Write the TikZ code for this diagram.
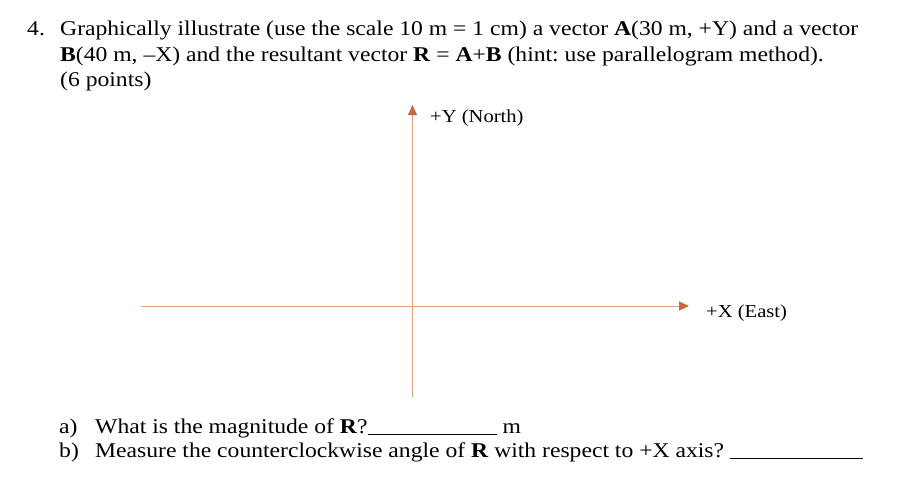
\documentclass[tikz,border=0pt]{standalone}
\usepackage{fontspec}
\setmainfont{Liberation Serif}[FakeStretch=1.125]
\usetikzlibrary{arrows.meta,positioning}
\definecolor{axisline}{RGB}{226,160,125}
\definecolor{axistip}{RGB}{196,106,62}
\frenchspacing

\begin{document}
\begin{tikzpicture}[x=1pt, y=-1pt,
    question/.style={anchor=base west, inner sep=0pt, font=\fontsize{21}{25}\selectfont},
    label/.style={anchor=base west, inner sep=0pt, font=\fontsize{18.3}{22}\selectfont},
    axis/.style={draw=axisline, line width=1pt, -{Triangle[length=10pt, width=9pt, color=axistip]}}
]
\useasboundingbox (0,0) rectangle (918,488);

% Question text
\node[question] at (27,35) (num) {4.};
\node[question] at (60,35) (line1) {Graphically illustrate (use the scale 10 m = 1 cm) a vector \textbf{A}(30 m, +Y) and a vector};
\node[question] at (60,61) (line2) {\textbf{B}(40 m, --X) and the resultant vector \textbf{R} = \textbf{A}+\textbf{B} (hint: use parallelogram method).};
\node[question] at (60,86) (line3) {(6 points)};

% Axes
\coordinate (xleft) at (141,306);
\coordinate (xright) at (689,306);
\coordinate (ybottom) at (412.5,397);
\coordinate (ytop) at (412.5,105);
\draw[axis] (xleft) -- (xright);
\draw[axis] (ybottom) -- (ytop);
\node[label] at (430,122) (north) {+Y (North)};
\node[label] at (706,317) (east) {+X (East)};

% Parts
\node[question] at (59,433) (parta) {a)};
\node[question] at (95,433) (qa) {What is the magnitude of \textbf{R}?\underline{\hspace{129pt}} m};
\node[question] at (59,457) (partb) {b)};
\node[question] at (95,457) (qb) {Measure the counterclockwise angle of \textbf{R} with respect to +X axis? \underline{\hspace{133pt}}};

\end{tikzpicture}
\end{document}
